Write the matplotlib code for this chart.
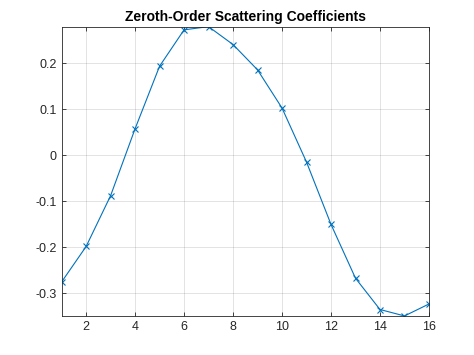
import numpy as np
import matplotlib
matplotlib.use("Agg")
import matplotlib.pyplot as plt

plt.rcParams["font.family"] = ["Liberation Sans", "DejaVu Sans"]

index = np.arange(1, 17)
coeffs = [-0.275, -0.198, -0.0875, 0.058, 0.194, 0.273, 0.280, 0.241,
          0.186, 0.103, -0.0145, -0.150, -0.267, -0.335, -0.349, -0.323]
x_ticks = [2, 4, 6, 8, 10, 12, 14, 16]
y_ticks = [-0.3, -0.2, -0.1, 0, 0.1, 0.2]
y_tick_labels = ["-0.3", "-0.2", "-0.1", "0", "0.1", "0.2"]

fig = plt.figure(figsize=(4.74, 3.55), dpi=100)
ax = fig.add_axes([0.13, 0.11, 0.775, 0.815])

ax.plot(index, coeffs, color="#0072BD", linewidth=0.8, marker="x",
        markersize=4, markeredgewidth=0.8)

ax.set_xlim(1, 16)
ax.set_ylim(min(coeffs), max(coeffs))
ax.set_xticks(x_ticks)
ax.set_yticks(y_ticks)
ax.set_yticklabels(y_tick_labels)

ax.grid(True, color="#262626", alpha=0.15, linewidth=0.6)
ax.set_axisbelow(True)
ax.tick_params(direction="in", top=True, right=True, length=3, width=0.6,
               colors="#262626", labelsize=9, labelcolor="#262626")
for s in ax.spines.values():
    s.set_color("#262626")
    s.set_linewidth(0.6)

ax.set_title("Zeroth-Order Scattering Coefficients", fontsize=10,
             fontweight="bold", color="black", pad=4)

fig.savefig("out.png", dpi=100)
plt.close(fig)
